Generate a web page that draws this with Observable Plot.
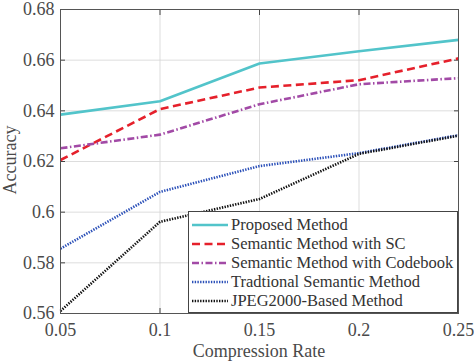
<!DOCTYPE html>
<html>
<head>
<meta charset="utf-8">
<script src="https://cdn.jsdelivr.net/npm/d3@7"></script>
<script src="https://cdn.jsdelivr.net/npm/@observablehq/plot@0.6"></script>
<style>
  body { margin: 0; background: #fff; }
  #wrap { position: relative; width: 474px; height: 363px; overflow: hidden; font-family: "Liberation Serif", "Times New Roman", serif; }
  #legend { position: absolute; left: 188px; top: 211px; width: 268px; height: 100px; border: 1px solid #444; background: #fff; box-sizing: content-box; }
  .row { position: absolute; left: 0; height: 19px; display: flex; align-items: center; font-size: 16.5px; color: #333; white-space: nowrap; }
  .row svg { margin-left: 3px; margin-right: 3px; }
</style>
</head>
<body>
<div id="wrap"></div>
<script>
const rates = [0.05, 0.1, 0.15, 0.2, 0.25];
const seriesNames = ["Proposed Method", "Semantic Method with SC", "Semantic Method with Codebook", "Tradtional Semantic Method", "JPEG2000-Based Method"];
const proposed = [0.6385, 0.6438, 0.6587, 0.6635, 0.6680];
const semanticSC = [0.6206, 0.6407, 0.6492, 0.6521, 0.6607];
const codebook = [0.6252, 0.6306, 0.6426, 0.6505, 0.6529];
const traditional = [0.5856, 0.6080, 0.6182, 0.6233, 0.6304];
const jpeg2000 = [0.5610, 0.5962, 0.6052, 0.6230, 0.6302];
const xTicks = [0.05, 0.1, 0.15, 0.2, 0.25];
const yTicks = [0.56, 0.58, 0.6, 0.62, 0.64, 0.66, 0.68];

const colors = ["#52c4ca", "#e5202b", "#a24aa6", "#2a4fb8", "#111111"];
const dashes = [null, "8,4.5", "7,2.5,1.5,2.5", "1.4,1.3", "1.4,1.3"];
const values = [proposed, semanticSC, codebook, traditional, jpeg2000];

const data = [];
values.forEach((arr, i) => arr.forEach((v, j) => data.push({series: seriesNames[i], idx: i, x: rates[j], y: v})));

const fmt = d => String(+d.toFixed(2));

const marks = [
  Plot.gridX(xTicks, {stroke: "#d4d4d4", strokeOpacity: 0.8}),
  Plot.gridY(yTicks, {stroke: "#d4d4d4", strokeOpacity: 0.8}),
  Plot.axisX(xTicks, {anchor: "bottom", tickSize: 0, tickPadding: 10, tickFormat: fmt, fontSize: 18, fill: "#4a4a4a", label: null}),
  Plot.axisY(yTicks, {anchor: "left", tickSize: 0, tickPadding: 6, tickFormat: fmt, fontSize: 18, fill: "#4a4a4a", label: null}),
  Plot.axisX(xTicks, {anchor: "bottom", tickSize: -5, text: null, label: null, stroke: "#444"}),
  Plot.axisX(xTicks, {anchor: "top", tickSize: -5, text: null, label: null, stroke: "#444"}),
  Plot.axisY(yTicks, {anchor: "left", tickSize: -5, text: null, label: null, stroke: "#444"}),
  Plot.axisY(yTicks, {anchor: "right", tickSize: -5, text: null, label: null, stroke: "#444"}),
];
seriesNames.forEach((name, i) => {
  marks.push(Plot.line(data.filter(d => d.idx === i), {
    x: "x", y: "y", stroke: colors[i], strokeWidth: 2.6,
    strokeDasharray: dashes[i] || undefined, strokeLinecap: "butt", strokeLinejoin: "round"
  }));
});
marks.push(Plot.frame({stroke: "#555", strokeWidth: 1}));

const chart = Plot.plot({
  width: 474, height: 363,
  marginLeft: 60, marginRight: 16, marginTop: 9, marginBottom: 50,
  style: {fontFamily: "Liberation Serif, Times New Roman, serif", background: "#fff", overflow: "visible"},
  x: {domain: [0.05, 0.25]},
  y: {domain: [0.56, 0.68]},
  marks
});
const wrap = document.getElementById("wrap");
wrap.appendChild(chart);

// axis titles
const svgNS = "http://www.w3.org/2000/svg";
function addText(txt, x, y, rot) {
  const t = document.createElementNS(svgNS, "text");
  t.textContent = txt;
  t.setAttribute("text-anchor", "middle");
  t.setAttribute("font-size", "18");
  t.setAttribute("fill", "#4a4a4a");
  t.setAttribute("font-family", "Liberation Serif, Times New Roman, serif");
  t.setAttribute("transform", `translate(${x},${y})` + (rot ? ` rotate(${rot})` : ""));
  chart.appendChild(t);
}
addText("Compression Rate", 259, 357, 0);
addText("Accuracy", 16, 160, -90);

// legend
const legend = document.createElement("div");
legend.id = "legend";
seriesNames.forEach((name, i) => {
  const row = document.createElement("div");
  row.className = "row";
  row.style.top = (3 + i * 19.2) + "px";
  const dash = dashes[i] ? `stroke-dasharray="${dashes[i]}"` : "";
  row.innerHTML = `<svg width="36" height="10"><line x1="0" x2="36" y1="5" y2="5" stroke="${colors[i]}" stroke-width="2.6" ${dash}/></svg><span>${name}</span>`;
  legend.appendChild(row);
});
wrap.appendChild(legend);
</script>
</body>
</html>
